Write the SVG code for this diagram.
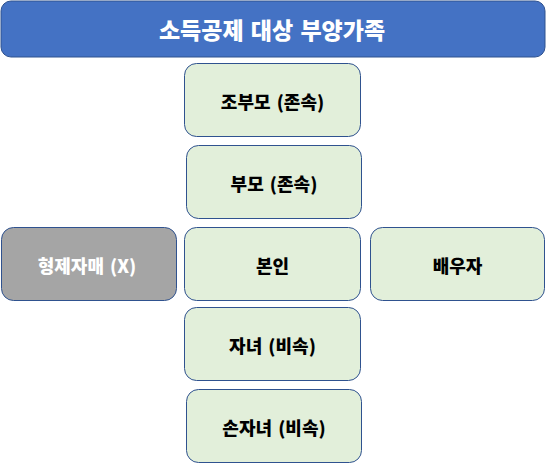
<svg xmlns="http://www.w3.org/2000/svg" width="546" height="463" viewBox="0 0 546 463">
<style>
.box{fill:#E2EFDA;stroke:#2F528F;stroke-width:1}
.gray{fill:#A5A5A5;stroke:#2F528F;stroke-width:1}
.title{fill:#4472C4;stroke:#2F528F;stroke-width:1}
text{font-family:"Noto Sans CJK KR","Noto Sans",sans-serif;font-weight:900;text-anchor:middle;dominant-baseline:central;word-spacing:2px}
.t{font-size:18px;fill:#000}
.tw{font-size:18px;fill:#FFFFFF}
.tt{font-size:23px;fill:#FFFFFF}
</style>
<rect width="546" height="463" fill="#FFFFFF"/>
<g id="title"><rect class="title" x="1" y="1" width="544" height="56" rx="10"/><text class="tt" x="272" y="29">소득공제 대상 부양가족</text></g>
<g id="grandparents"><rect class="box" x="184.5" y="63.5" width="176" height="73" rx="12"/><text class="t" x="272.5" y="101">조부모 (존속)</text></g>
<g id="parents"><rect class="box" x="186.5" y="145.5" width="175" height="73" rx="12"/><text class="t" x="274" y="183">부모 (존속)</text></g>
<g id="siblings"><rect class="gray" x="1.5" y="227.5" width="175" height="73" rx="12"/><text class="tw" x="87" y="265">형제자매 (X)</text></g>
<g id="self"><rect class="box" x="184.5" y="227.5" width="176" height="73" rx="12"/><text class="t" x="272.5" y="265">본인</text></g>
<g id="spouse"><rect class="box" x="370.5" y="227.5" width="174" height="73" rx="12"/><text class="t" x="457.5" y="265">배우자</text></g>
<g id="children"><rect class="box" x="184.5" y="307.5" width="176" height="73" rx="12"/><text class="t" x="272.5" y="345">자녀 (비속)</text></g>
<g id="grandchildren"><rect class="box" x="186.5" y="389.5" width="175" height="73" rx="12"/><text class="t" x="274" y="427">손자녀 (비속)</text></g>
<g id="connectors"></g>
</svg>
